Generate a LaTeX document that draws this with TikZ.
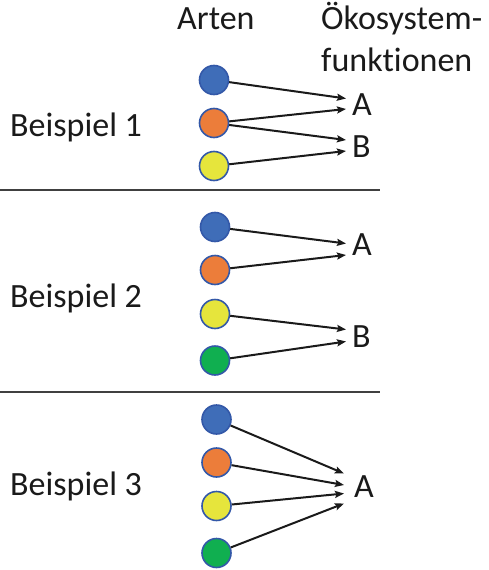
\documentclass[tikz,border=0pt]{standalone}
\usepackage{fontspec}
\setmainfont{Carlito}[Ligatures=NoCommon]
\usetikzlibrary{arrows.meta}
\definecolor{cblue}{HTML}{3F6DB8}
\definecolor{corange}{HTML}{EC7D3A}
\definecolor{cyellow}{HTML}{E6E53C}
\definecolor{cgreen}{HTML}{10AF50}
\definecolor{cborder}{HTML}{3358A8}
\definecolor{ctext}{HTML}{1A1A1A}
\tikzset{
  art/.style={circle, draw=cborder, line width=1.6pt, minimum size=29pt, inner sep=0pt},
  lbl/.style={anchor=base west, inner sep=0pt, font=\fontsize{34}{40}\selectfont, text=ctext},
  conn/.style={line width=2pt, draw=ctext, -{Stealth[length=9pt,width=7pt,inset=1.5pt]}},
  sep/.style={line width=1.8pt, draw=black!75}
}
\begin{document}
\begin{tikzpicture}[x=1pt,y=-1pt]
\useasboundingbox (0,0) rectangle (488,570);
% headers
\node[lbl] (arten) at (177,29) {Arten};
\node[lbl] (oeko1) at (321,29) {Ökosystem-};
\node[lbl] (oeko2) at (321,71) {funktionen};
% separators
\coordinate (s1a) at (0,190); \coordinate (s1b) at (380,190);
\coordinate (s2a) at (0,392); \coordinate (s2b) at (380,392);
\draw[sep] (s1a) -- (s1b);
\draw[sep] (s2a) -- (s2b);
% Beispiel 1
\node[lbl] (b1) at (10,136) {Beispiel 1};
\node[art, fill=cblue] (c11) at (214,80) {};
\node[art, fill=corange] (c12) at (214,123) {};
\node[art, fill=cyellow] (c13) at (214,166) {};
\node[lbl] (A1) at (352,115) {A};
\node[lbl] (B1) at (352,157) {B};
\coordinate (t11) at (346,98.5);
\coordinate (t12) at (346,109);
\coordinate (t13) at (346,140);
\coordinate (t14) at (346,151);
\draw[conn] (c11) -- (t11);
\draw[conn] (c12) -- (t12);
\draw[conn] (c12) -- (t13);
\draw[conn] (c13) -- (t14);
% Beispiel 2
\node[lbl] (b2) at (10,307) {Beispiel 2};
\node[art, fill=cblue] (c21) at (215,227) {};
\node[art, fill=corange] (c22) at (215,270) {};
\node[art, fill=cyellow] (c23) at (215,314) {};
\node[art, fill=cgreen] (c24) at (215,360.5) {};
\node[lbl] (A2) at (352,255.5) {A};
\node[lbl] (B2) at (352,347.5) {B};
\coordinate (t21) at (346,243.5);
\coordinate (t22) at (346,255);
\coordinate (t23) at (346,329.5);
\coordinate (t24) at (346,341.5);
\draw[conn] (c21) -- (t21);
\draw[conn] (c22) -- (t22);
\draw[conn] (c23) -- (t23);
\draw[conn] (c24) -- (t24);
% Beispiel 3
\node[lbl] (b3) at (10,495) {Beispiel 3};
\node[art, fill=cblue] (c31) at (216.5,419.5) {};
\node[art, fill=corange] (c32) at (216.5,462.5) {};
\node[art, fill=cyellow] (c33) at (216.5,506) {};
\node[art, fill=cgreen] (c34) at (216.5,553) {};
\node[lbl] (A3) at (354,497) {A};
\coordinate (t31) at (344,473.5);
\coordinate (t32) at (344,485);
\coordinate (t33) at (344,493.5);
\coordinate (t34) at (344,503.5);
\draw[conn] (c31) -- (t31);
\draw[conn] (c32) -- (t32);
\draw[conn] (c33) -- (t33);
\draw[conn] (c34) -- (t34);
\end{tikzpicture}
\end{document}
